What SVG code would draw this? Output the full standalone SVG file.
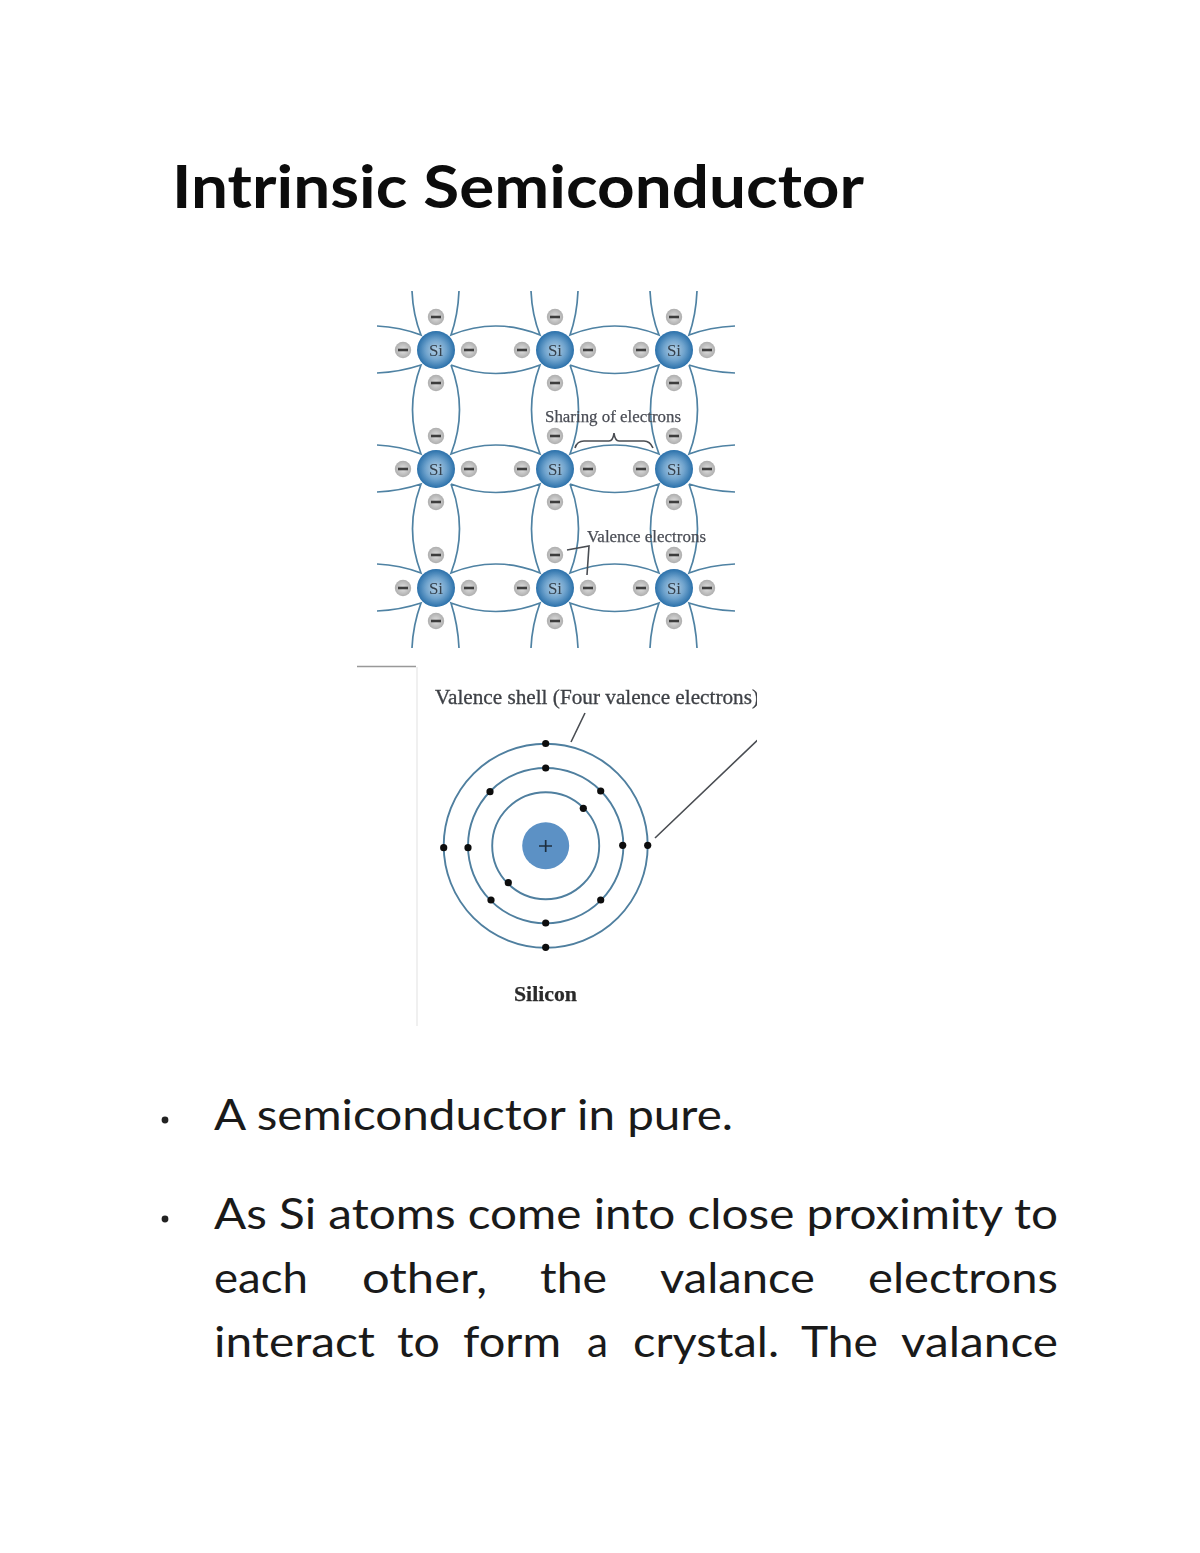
<svg xmlns="http://www.w3.org/2000/svg" width="1200" height="1553" viewBox="0 0 1200 1553">
<style>
.title{font:700 60px Lato,"Open Sans",sans-serif;fill:#0c0c0c}
.body{font:400 43px Lato,"Open Sans",sans-serif;fill:#1a1a1a}
.lab{font:400 17.5px "Liberation Serif",serif;fill:#4a4d55;stroke:#4a4d55;stroke-width:.25}
.shell{font:400 20.5px "Liberation Serif",serif;fill:#3e4146;stroke:#3e4146;stroke-width:.3}
.sil{font:700 20.5px "Liberation Serif",serif;fill:#2c2c2c;stroke:#2c2c2c;stroke-width:.25}
.si{font:400 17px "Liberation Serif",serif;fill:#34404c;text-anchor:middle}
.wire{fill:none;stroke:#4f82a3;stroke-width:1.7}
.lead{fill:none;stroke:#4a4d52;stroke-width:1.6}
.orb{fill:none;stroke:#4f7f9f;stroke-width:1.9}
.dot{fill:#0d0d0d}
</style>
<defs>
<radialGradient id="g" cx="50%" cy="50%" r="50%"><stop offset="0" stop-color="#b4cfe4"/><stop offset="0.55" stop-color="#6fa3cd"/><stop offset="1" stop-color="#2a70aa"/></radialGradient>
<radialGradient id="eg" cx="50%" cy="50%" r="50%"><stop offset="0" stop-color="#e2e2e2"/><stop offset="1" stop-color="#aeaeae"/></radialGradient>
<filter id="soft" x="-5%" y="-5%" width="110%" height="110%"><feGaussianBlur stdDeviation="0.7"/></filter>
<g id="e"><circle r="8.2" fill="url(#eg)"/><rect x="-5" y="-1.3" width="10" height="2.6" fill="#3c3c3c"/></g>
<g id="atom"><use href="#e" x="0" y="-33"/><use href="#e" x="-33" y="0"/><use href="#e" x="33" y="0"/><use href="#e" x="0" y="33"/><circle r="19" fill="url(#g)"/></g>
<clipPath id="c"><rect x="420" y="680" width="337" height="170"/></clipPath>
</defs>
<rect width="1200" height="1553" fill="#fff"/>
<text class="title" x="172" y="208" textLength="692" lengthAdjust="spacingAndGlyphs">Intrinsic Semiconductor</text>
<g id="crystal" filter="url(#soft)">
<g id="connectors">
<path class="wire" d="M377 326Q400 327 421 335Q413 315 412 291M459 291Q458 315 451 335Q496 317 540 335Q532 315 531 291M578 291Q577 315 570 335Q615 317 659 335Q651 315 650 291M697 291Q696 315 689 335Q710 327 735 326"/>
<path class="wire" d="M377 373Q400 372 421 365Q404 410 421 454Q400 446 377 445M451 365Q496 382 540 365Q523 410 540 454Q496 436 451 454Q468 410 451 365M570 365Q615 382 659 365Q642 410 659 454Q615 436 570 454Q587 410 570 365M689 365Q710 372 735 373M689 365Q706 410 689 454Q710 446 735 445"/>
<path class="wire" d="M377 492Q400 491 421 484Q404 529 421 573Q400 565 377 564M451 484Q496 501 540 484Q523 529 540 573Q496 555 451 573Q468 529 451 484M570 484Q615 501 659 484Q642 529 659 573Q615 555 570 573Q587 529 570 484M689 484Q710 491 735 492M689 484Q706 529 689 573Q710 565 735 564"/>
<path class="wire" d="M377 611Q400 610 421 603Q413 625 412 648M459 648Q458 625 451 603Q496 620 540 603Q532 625 531 648M578 648Q577 625 570 603Q615 620 659 603Q651 625 650 648M697 648Q696 625 689 603Q710 610 735 611"/>
<path class="lead" d="M575 448Q577 441 584 441H609Q613 441 614 433Q615 441 619 441H644Q650 441 653 448M567 550L589 546L587 575"/>
</g>
<g id="atom-1"><use href="#atom" x="436" y="350"/><text class="si" x="436" y="356">Si</text></g>
<g id="atom-2"><use href="#atom" x="555" y="350"/><text class="si" x="555" y="356">Si</text></g>
<g id="atom-3"><use href="#atom" x="674" y="350"/><text class="si" x="674" y="356">Si</text></g>
<g id="atom-4"><use href="#atom" x="436" y="469"/><text class="si" x="436" y="475">Si</text></g>
<g id="atom-5"><use href="#atom" x="555" y="469"/><text class="si" x="555" y="475">Si</text></g>
<g id="atom-6"><use href="#atom" x="674" y="469"/><text class="si" x="674" y="475">Si</text></g>
<g id="atom-7"><use href="#atom" x="436" y="588"/><text class="si" x="436" y="594">Si</text></g>
<g id="atom-8"><use href="#atom" x="555" y="588"/><text class="si" x="555" y="594">Si</text></g>
<g id="atom-9"><use href="#atom" x="674" y="588"/><text class="si" x="674" y="594">Si</text></g>
<text class="lab" x="545" y="422" textLength="136" lengthAdjust="spacingAndGlyphs">Sharing of electrons</text>
<text class="lab" x="587" y="542" textLength="119" lengthAdjust="spacingAndGlyphs">Valence electrons</text>
</g>
<g id="silicon" filter="url(#soft)">
<path d="M357 666.5H416" stroke="#999" stroke-width="1.4" fill="none"/>
<path d="M417 667V1026" stroke="#e6e6e6" stroke-width="1.2" fill="none"/>
<g clip-path="url(#c)">
<text class="shell" x="435" y="704" textLength="324" lengthAdjust="spacingAndGlyphs">Valence shell (Four valence electrons)</text>
<path class="lead" d="M585 713L571 742M655 838L765 733"/>
</g>
<circle class="orb" cx="545.7" cy="845.7" r="102"/>
<circle class="orb" cx="545.7" cy="845.7" r="77.7"/>
<circle class="orb" cx="545.7" cy="845.7" r="53.5"/>
<circle cx="545.7" cy="845.7" r="23.5" fill="#5b91c5"/>
<path d="M539 846H552M545.7 840V852" stroke="#1f2e3e" stroke-width="1.7" fill="none"/>
<g class="dot">
<circle cx="545.7" cy="743.5" r="3.6"/><circle cx="545.7" cy="768" r="3.6"/><circle cx="490" cy="791.7" r="3.6"/><circle cx="600.7" cy="791" r="3.6"/><circle cx="583.3" cy="808.3" r="3.6"/><circle cx="443.7" cy="847.7" r="3.6"/><circle cx="468" cy="847.7" r="3.6"/><circle cx="622.7" cy="845.3" r="3.6"/><circle cx="647.7" cy="845.3" r="3.6"/><circle cx="508.3" cy="882.7" r="3.6"/><circle cx="491" cy="900" r="3.6"/><circle cx="600.7" cy="900" r="3.6"/><circle cx="545.7" cy="923" r="3.6"/><circle cx="545.7" cy="947.3" r="3.6"/>
</g>
<text class="sil" x="514" y="1001" textLength="63" lengthAdjust="spacingAndGlyphs">Silicon</text>
</g>
<g id="bullets">
<circle cx="165" cy="1120" r="3.4" fill="#222"/>
<circle cx="165" cy="1219" r="3.4" fill="#222"/>
<text class="body" x="214" y="1130" textLength="519" lengthAdjust="spacingAndGlyphs">A semiconductor in pure.</text>
<text class="body" x="214" y="1229" textLength="844" lengthAdjust="spacingAndGlyphs">As Si atoms come into close proximity to</text>
<text class="body" x="214" y="1293" textLength="94" lengthAdjust="spacingAndGlyphs">each</text><text class="body" x="362" y="1293" textLength="125" lengthAdjust="spacingAndGlyphs">other,</text><text class="body" x="540" y="1293" textLength="67" lengthAdjust="spacingAndGlyphs">the</text><text class="body" x="660" y="1293" textLength="155" lengthAdjust="spacingAndGlyphs">valance</text><text class="body" x="868" y="1293" textLength="190" lengthAdjust="spacingAndGlyphs">electrons</text>
<text class="body" x="214" y="1357" textLength="161" lengthAdjust="spacingAndGlyphs">interact</text><text class="body" x="397" y="1357" textLength="43" lengthAdjust="spacingAndGlyphs">to</text><text class="body" x="463" y="1357" textLength="98" lengthAdjust="spacingAndGlyphs">form</text><text class="body" x="587" y="1357" textLength="21" lengthAdjust="spacingAndGlyphs">a</text><text class="body" x="633" y="1357" textLength="146" lengthAdjust="spacingAndGlyphs">crystal.</text><text class="body" x="801" y="1357" textLength="77" lengthAdjust="spacingAndGlyphs">The</text><text class="body" x="901" y="1357" textLength="157" lengthAdjust="spacingAndGlyphs">valance</text>
</g>
</svg>
